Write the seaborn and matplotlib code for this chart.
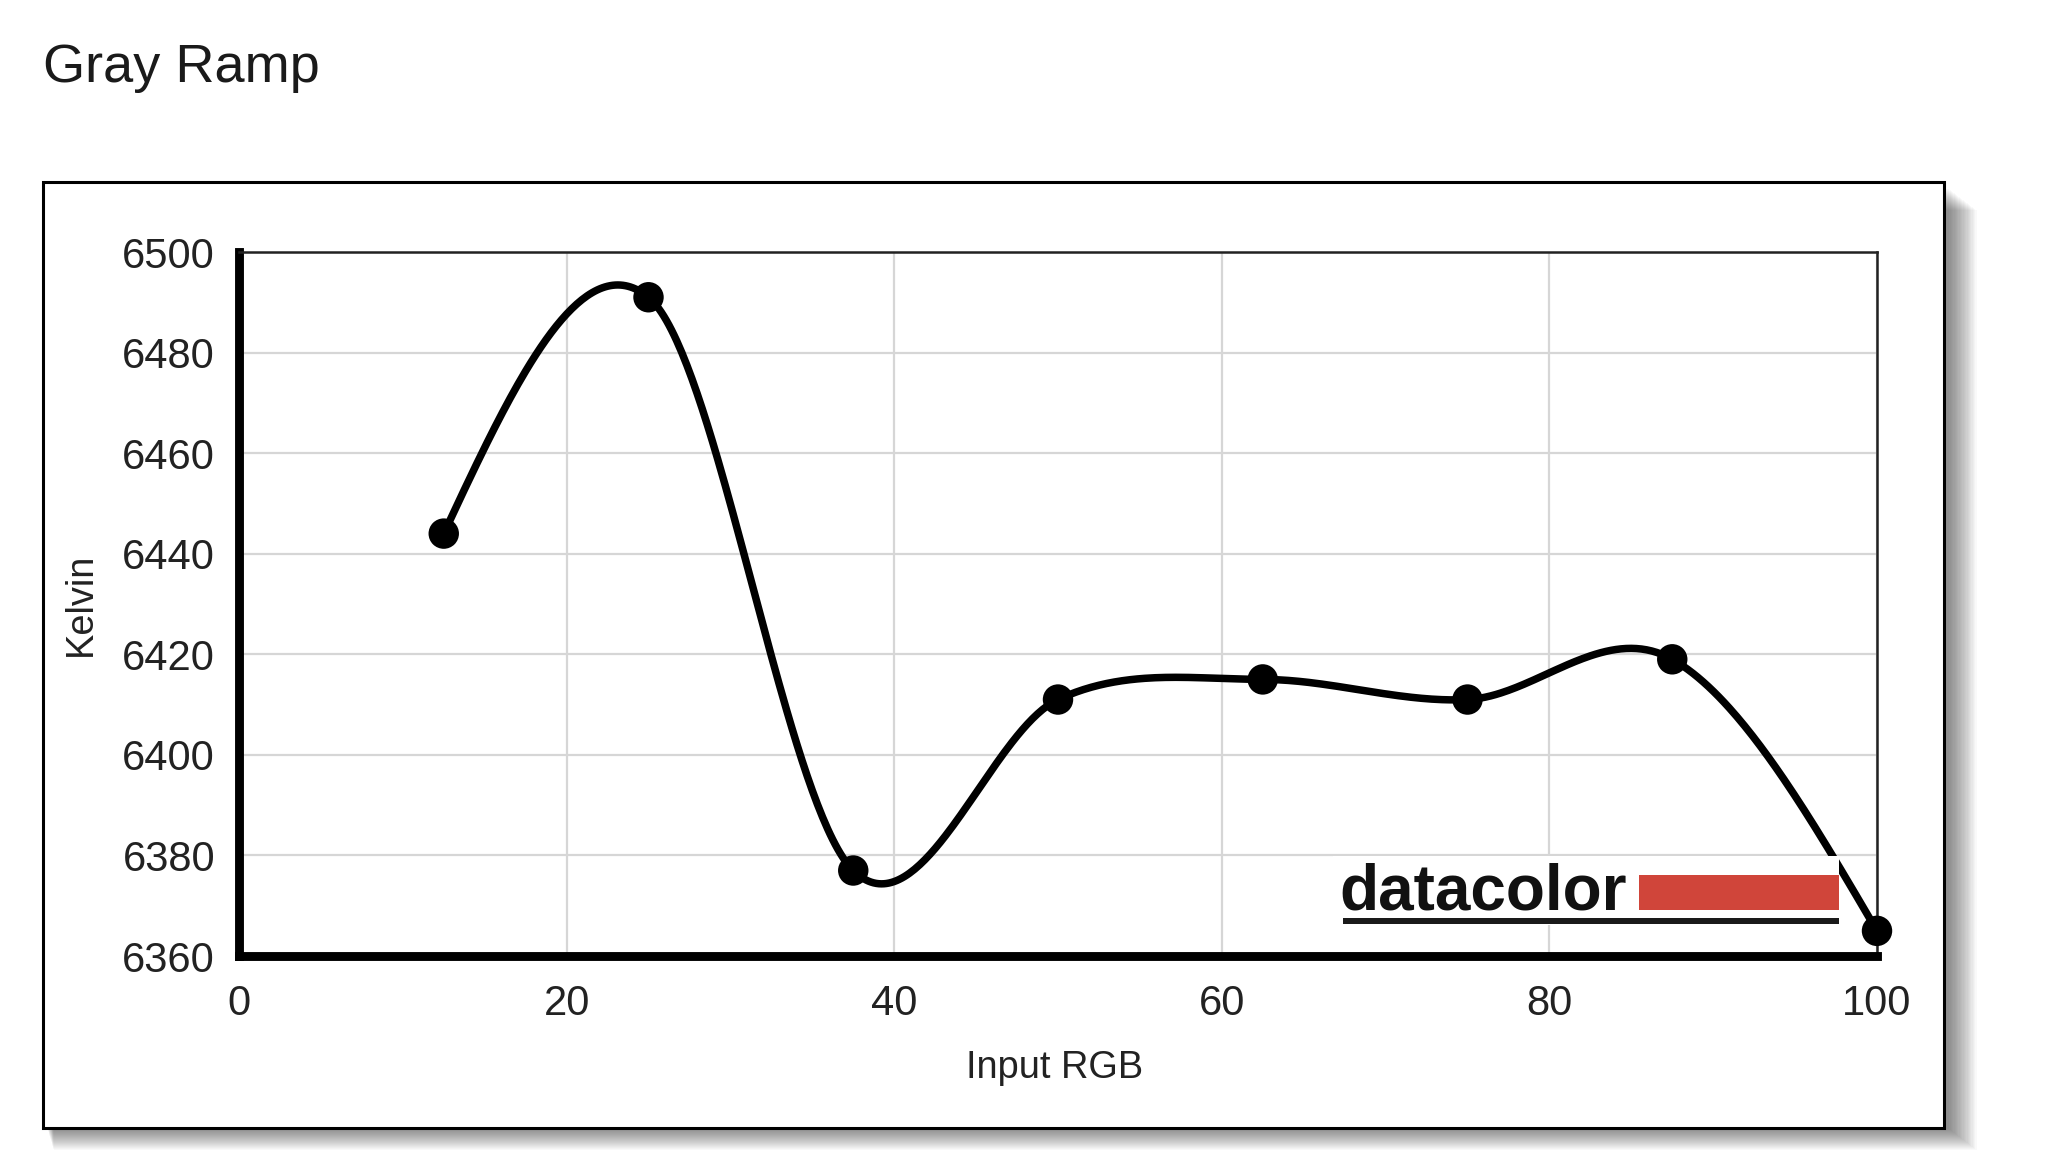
import numpy as np
import pandas as pd
import seaborn as sns
import matplotlib.pyplot as plt
from matplotlib.patches import Rectangle

# data
input_rgb = [12.5, 25, 37.5, 50, 62.5, 75, 87.5, 100]
kelvin = [6444, 6491, 6377, 6411, 6415, 6411, 6419, 6365]
x_ticks = [0, 20, 40, 60, 80, 100]
y_ticks = [6360, 6380, 6400, 6420, 6440, 6460, 6480, 6500]


def smooth_curve(x, y, per_seg=80):
    # Catmull-Rom style cubic through the points, natural (zero curvature) ends
    x = np.asarray(x, float)
    y = np.asarray(y, float)
    n = len(x)
    m = np.zeros(n)
    m[1:-1] = (y[2:] - y[:-2]) / (x[2:] - x[:-2])
    h0, hn = x[1] - x[0], x[-1] - x[-2]
    m[0] = (3 * (y[1] - y[0]) / h0 - m[1]) / 2
    m[-1] = (3 * (y[-1] - y[-2]) / hn - m[-2]) / 2
    xs, ys = [], []
    for i in range(n - 1):
        h = x[i + 1] - x[i]
        t = np.linspace(0, 1, per_seg, endpoint=(i == n - 2))
        h00 = 2 * t**3 - 3 * t**2 + 1
        h10 = t**3 - 2 * t**2 + t
        h01 = -2 * t**3 + 3 * t**2
        h11 = t**3 - t**2
        xs.append(x[i] + t * h)
        ys.append(h00 * y[i] + h10 * h * m[i] + h01 * y[i + 1] + h11 * h * m[i + 1])
    return np.concatenate(xs), np.concatenate(ys)


df = pd.DataFrame({'Input RGB': input_rgb, 'Kelvin': kelvin})
sx, sy = smooth_curve(input_rgb, kelvin)
curve = pd.DataFrame({'Input RGB': sx, 'Kelvin': sy})

sns.set_style('white')
plt.rcParams['font.family'] = ['Liberation Sans', 'DejaVu Sans']

W, H = 2048, 1174
fig = plt.figure(figsize=(W / 200, H / 200), dpi=200)

# framed panel with soft drop shadow
bx0, by_top, bx1, by_bot = 43, 182, 1944, 1128
for k in range(22, 0, -1):
    fig.patches.append(Rectangle(((bx0 + 4 + k * 0.3) / W, (H - by_bot - k) / H),
                                 (bx1 - bx0 + k) / W, (by_bot - by_top - 6) / H,
                                 transform=fig.transFigure, facecolor='black',
                                 edgecolor='none', alpha=0.022, zorder=0))
fig.patches.append(Rectangle((bx0 / W, (H - by_bot) / H), (bx1 - bx0) / W,
                             (by_bot - by_top) / H, transform=fig.transFigure,
                             facecolor='white', edgecolor='black', lw=1.1, zorder=1))

fig.text(43 / W, 1 - 82 / H, 'Gray Ramp', fontsize=19.5, color='#1a1a1a',
         ha='left', va='baseline')

ax = fig.add_axes([239 / W, 1 - 956 / H, (1877 - 239) / W, (956 - 252) / H])
ax.set_zorder(2)
ax.set_facecolor('white')

sns.lineplot(data=curve, x='Input RGB', y='Kelvin', color='black', lw=2.7,
             ax=ax, zorder=3)
sns.scatterplot(data=df, x='Input RGB', y='Kelvin', color='black', s=120,
                edgecolor='none', ax=ax, zorder=6, clip_on=False)

ax.set_xlim(0, 100)
ax.set_ylim(6360, 6500)
ax.set_xticks(x_ticks)
ax.set_yticks(y_ticks)
ax.grid(True, color='#d6d6d6', lw=0.8)
ax.set_axisbelow(True)

for s in ['left', 'bottom']:
    ax.spines[s].set_linewidth(3.2)
    ax.spines[s].set_color('black')
for s in ['top', 'right']:
    ax.spines[s].set_linewidth(0.9)
    ax.spines[s].set_color('#222222')
    ax.spines[s].set_visible(True)

ax.tick_params(direction='out', length=3.6, width=0.8, color='black',
               labelsize=15, labelcolor='#222222', pad=5)
ax.tick_params(axis='x', pad=6.5)

ax.set_xlabel('Input RGB', fontsize=13.7, color='#222222', va='center')
ax.xaxis.set_label_coords(0.498, -0.159)
ax.set_ylabel('Kelvin', fontsize=13.7, color='#222222', va='center')
ax.yaxis.set_label_coords(-0.0965, 0.5)

# datacolor logo
ax.add_patch(Rectangle((0.668, 0.044), 0.309, 0.098, transform=ax.transAxes,
                       facecolor='white', edgecolor='none', zorder=4))
ax.text(0.672, 0.066, 'datacolor', transform=ax.transAxes, fontsize=23,
        fontweight='bold', color='#111111', ha='left', va='baseline', zorder=5)
ax.add_patch(Rectangle((0.855, 0.066), 0.122, 0.049, transform=ax.transAxes,
                       facecolor='#d0453a', edgecolor='none', zorder=5))
ax.add_patch(Rectangle((0.674, 0.046), 0.303, 0.008, transform=ax.transAxes,
                       facecolor='#1a1a1a', edgecolor='none', zorder=5))

fig.savefig('out.png', dpi=200)
